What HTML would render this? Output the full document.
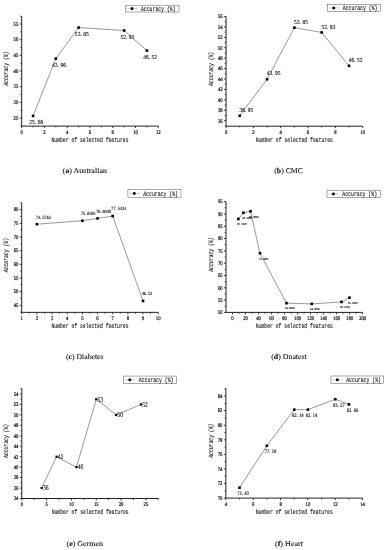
<!DOCTYPE html>
<html><head><meta charset="utf-8"><title>Accuracy vs number of selected features</title>
<style>
html,body{margin:0;padding:0;background:#fff}
svg{display:block}
text{fill:#111;text-rendering:geometricPrecision}
.tk{font-family:"Liberation Serif",serif;stroke:#111;stroke-width:0.2}
.pl{font-family:"Liberation Serif",serif;stroke:#111;stroke-width:0.12}
.mono{font-family:"Liberation Mono",monospace;stroke:#111;stroke-width:0.1}
.it{font-style:italic}
.cap{font-family:"Liberation Serif",serif;stroke:#111;stroke-width:0.1}
</style></head><body>
<svg width="388" height="550" viewBox="0 0 388 550">
<rect width="388" height="550" fill="#fff"/>
<path d="M21.7 16V126.1H158.2" fill="none" stroke="#222" stroke-width="1"/>
<path d="M21.7 118h-2M21.7 102.33h-2M21.7 86.67h-2M21.7 71h-2M21.7 55.33h-2M21.7 39.67h-2M21.7 24h-2M21.7 125.83h-1.3M21.7 110.17h-1.3M21.7 94.5h-1.3M21.7 78.83h-1.3M21.7 63.17h-1.3M21.7 47.5h-1.3M21.7 31.83h-1.3M21.7 16.17h-1.3M21.7 126.1v2M44.47 126.1v2M67.23 126.1v2M90 126.1v2M112.77 126.1v2M135.53 126.1v2M158.3 126.1v2M33.08 126.1v1.3M55.85 126.1v1.3M78.62 126.1v1.3M101.38 126.1v1.3M124.15 126.1v1.3M146.92 126.1v1.3" fill="none" stroke="#222" stroke-width="0.9"/>
<g class="tk" font-size="5.5">
<text transform="translate(18.3 119.81) scale(0.85 1)" text-anchor="end">25</text>
<text transform="translate(18.3 104.15) scale(0.85 1)" text-anchor="end">30</text>
<text transform="translate(18.3 88.48) scale(0.85 1)" text-anchor="end">35</text>
<text transform="translate(18.3 72.81) scale(0.85 1)" text-anchor="end">40</text>
<text transform="translate(18.3 57.15) scale(0.85 1)" text-anchor="end">45</text>
<text transform="translate(18.3 41.48) scale(0.85 1)" text-anchor="end">50</text>
<text transform="translate(18.3 25.82) scale(0.85 1)" text-anchor="end">55</text>
<text transform="translate(21.7 134.01) scale(0.85 1)" text-anchor="middle">0</text>
<text transform="translate(44.47 134.01) scale(0.85 1)" text-anchor="middle">2</text>
<text transform="translate(67.23 134.01) scale(0.85 1)" text-anchor="middle">4</text>
<text transform="translate(90 134.01) scale(0.85 1)" text-anchor="middle">6</text>
<text transform="translate(112.77 134.01) scale(0.85 1)" text-anchor="middle">8</text>
<text transform="translate(135.53 134.01) scale(0.85 1)" text-anchor="middle">10</text>
<text transform="translate(158.3 134.01) scale(0.85 1)" text-anchor="middle">12</text>
</g>
<text class="mono" transform="translate(89.95 141.6) scale(0.7 1)" text-anchor="middle" font-size="6.8">Number of selected features</text>
<text class="mono it" transform="translate(8.15 68.65) rotate(-90) scale(0.7 1)" text-anchor="middle" font-size="6.8">Accuracy (%)</text>
<path d="M33.08 115.93L55.85 58.59L78.62 27.6L124.15 30.49L146.92 50.57" fill="none" stroke="#444" stroke-width="0.55"/>
<rect x="31.78" y="114.63" width="2.6" height="2.6" fill="#000"/>
<rect x="54.55" y="57.29" width="2.6" height="2.6" fill="#000"/>
<rect x="77.32" y="26.3" width="2.6" height="2.6" fill="#000"/>
<rect x="122.85" y="29.19" width="2.6" height="2.6" fill="#000"/>
<rect x="145.62" y="49.27" width="2.6" height="2.6" fill="#000"/>
<g class="pl" font-size="6.16">
<text transform="translate(29.33 124.11) scale(0.9 1)" dx="0 0 0 1.54">25.66</text>
<text transform="translate(52.1 66.77) scale(0.9 1)" dx="0 0 0 1.54">43.96</text>
<text transform="translate(74.87 35.79) scale(0.9 1)" dx="0 0 0 1.54">53.85</text>
<text transform="translate(120.4 38.67) scale(0.9 1)" dx="0 0 0 1.54">52.93</text>
<text transform="translate(143.17 58.75) scale(0.9 1)" dx="0 0 0 1.54">46.52</text>
</g>
<rect x="125.6" y="5.2" width="53.4" height="6.8" fill="#fff" stroke="#555" stroke-width="0.5"/>
<path d="M127.1 8.6H137.6" stroke="#888" stroke-width="0.45"/>
<rect x="130.7" y="7.3" width="2.6" height="2.6" fill="#000"/>
<text class="mono" stroke-width="0.04" transform="translate(140.9 10.8) scale(0.71 1)" font-size="6.8">Accuracy (%)</text>
<g transform="translate(0.3 0.2)">
<path d="M225.75 16.25V126H362.4" fill="none" stroke="#222" stroke-width="1"/>
<path d="M225.75 120.5h-2M225.75 110.08h-2M225.75 99.65h-2M225.75 89.23h-2M225.75 78.8h-2M225.75 68.38h-2M225.75 57.95h-2M225.75 47.53h-2M225.75 37.1h-2M225.75 26.68h-2M225.75 16.25h-2M225.75 125.71h-1.3M225.75 115.29h-1.3M225.75 104.86h-1.3M225.75 94.44h-1.3M225.75 84.01h-1.3M225.75 73.59h-1.3M225.75 63.16h-1.3M225.75 52.74h-1.3M225.75 42.31h-1.3M225.75 31.89h-1.3M225.75 21.46h-1.3M225.75 126v2M253.08 126v2M280.41 126v2M307.74 126v2M335.07 126v2M362.4 126v2M239.41 126v1.3M266.75 126v1.3M294.07 126v1.3M321.4 126v1.3M348.73 126v1.3" fill="none" stroke="#222" stroke-width="0.9"/>
<g class="tk" font-size="5.5">
<text transform="translate(222.35 122.31) scale(0.85 1)" text-anchor="end">36</text>
<text transform="translate(222.35 111.89) scale(0.85 1)" text-anchor="end">38</text>
<text transform="translate(222.35 101.47) scale(0.85 1)" text-anchor="end">40</text>
<text transform="translate(222.35 91.04) scale(0.85 1)" text-anchor="end">42</text>
<text transform="translate(222.35 80.62) scale(0.85 1)" text-anchor="end">44</text>
<text transform="translate(222.35 70.19) scale(0.85 1)" text-anchor="end">46</text>
<text transform="translate(222.35 59.77) scale(0.85 1)" text-anchor="end">48</text>
<text transform="translate(222.35 49.34) scale(0.85 1)" text-anchor="end">50</text>
<text transform="translate(222.35 38.91) scale(0.85 1)" text-anchor="end">52</text>
<text transform="translate(222.35 28.49) scale(0.85 1)" text-anchor="end">54</text>
<text transform="translate(222.35 18.07) scale(0.85 1)" text-anchor="end">56</text>
<text transform="translate(225.75 133.91) scale(0.85 1)" text-anchor="middle">0</text>
<text transform="translate(253.08 133.91) scale(0.85 1)" text-anchor="middle">2</text>
<text transform="translate(280.41 133.91) scale(0.85 1)" text-anchor="middle">4</text>
<text transform="translate(307.74 133.91) scale(0.85 1)" text-anchor="middle">6</text>
<text transform="translate(335.07 133.91) scale(0.85 1)" text-anchor="middle">8</text>
<text transform="translate(362.4 133.91) scale(0.85 1)" text-anchor="middle">10</text>
</g>
<text class="mono" transform="translate(294.07 141.5) scale(0.7 1)" text-anchor="middle" font-size="6.8">Number of selected features</text>
<text class="mono it" transform="translate(212.4 68.72) rotate(-90) scale(0.7 1)" text-anchor="middle" font-size="6.8">Accuracy (%)</text>
<path d="M239.41 115.55L266.75 79.06L294.07 27.46L321.4 32.25L348.73 65.66" fill="none" stroke="#444" stroke-width="0.55"/>
<rect x="238.11" y="114.25" width="2.6" height="2.6" fill="#000"/>
<rect x="265.44" y="77.76" width="2.6" height="2.6" fill="#000"/>
<rect x="292.77" y="26.16" width="2.6" height="2.6" fill="#000"/>
<rect x="320.1" y="30.95" width="2.6" height="2.6" fill="#000"/>
<rect x="347.43" y="64.36" width="2.6" height="2.6" fill="#000"/>
<g class="pl" font-size="6.16">
<text transform="translate(239.11 111.68) scale(0.9 1)" dx="0 0 0 1.54">36.95</text>
<text transform="translate(266.44 75.19) scale(0.9 1)" dx="0 0 0 1.54">43.95</text>
<text transform="translate(293.77 23.59) scale(0.9 1)" dx="0 0 0 1.54">53.85</text>
<text transform="translate(321.1 28.39) scale(0.9 1)" dx="0 0 0 1.54">52.93</text>
<text transform="translate(348.43 61.8) scale(0.9 1)" dx="0 0 0 1.54">46.52</text>
</g>
<rect x="327.1" y="4.4" width="53.2" height="6.8" fill="#fff" stroke="#555" stroke-width="0.5"/>
<path d="M328.6 7.8H339.1" stroke="#888" stroke-width="0.45"/>
<rect x="332.2" y="6.5" width="2.6" height="2.6" fill="#000"/>
<text class="mono" stroke-width="0.04" transform="translate(342.4 10) scale(0.71 1)" font-size="6.8">Accuracy (%)</text>
</g>
<g transform="translate(0.2 0.35)">
<path d="M21.5 202.4V312H158" fill="none" stroke="#222" stroke-width="1"/>
<path d="M21.5 305h-2M21.5 291.32h-2M21.5 277.64h-2M21.5 263.96h-2M21.5 250.29h-2M21.5 236.61h-2M21.5 222.93h-2M21.5 209.25h-2M21.5 311.84h-1.3M21.5 298.16h-1.3M21.5 284.48h-1.3M21.5 270.8h-1.3M21.5 257.12h-1.3M21.5 243.45h-1.3M21.5 229.77h-1.3M21.5 216.09h-1.3M21.5 202.41h-1.3M21.5 312v2M36.67 312v2M51.83 312v2M67 312v2M82.17 312v2M97.33 312v2M112.5 312v2M127.67 312v2M142.83 312v2M158 312v2M29.08 312v1.3M44.25 312v1.3M59.42 312v1.3M74.58 312v1.3M89.75 312v1.3M104.92 312v1.3M120.08 312v1.3M135.25 312v1.3M150.42 312v1.3" fill="none" stroke="#222" stroke-width="0.9"/>
<g class="tk" font-size="5.5">
<text transform="translate(18.1 306.81) scale(0.85 1)" text-anchor="end">45</text>
<text transform="translate(18.1 293.14) scale(0.85 1)" text-anchor="end">50</text>
<text transform="translate(18.1 279.46) scale(0.85 1)" text-anchor="end">55</text>
<text transform="translate(18.1 265.78) scale(0.85 1)" text-anchor="end">60</text>
<text transform="translate(18.1 252.1) scale(0.85 1)" text-anchor="end">65</text>
<text transform="translate(18.1 238.42) scale(0.85 1)" text-anchor="end">70</text>
<text transform="translate(18.1 224.74) scale(0.85 1)" text-anchor="end">75</text>
<text transform="translate(18.1 211.06) scale(0.85 1)" text-anchor="end">80</text>
<text transform="translate(21.5 319.92) scale(0.85 1)" text-anchor="middle">1</text>
<text transform="translate(36.67 319.92) scale(0.85 1)" text-anchor="middle">2</text>
<text transform="translate(51.83 319.92) scale(0.85 1)" text-anchor="middle">3</text>
<text transform="translate(67 319.92) scale(0.85 1)" text-anchor="middle">4</text>
<text transform="translate(82.17 319.92) scale(0.85 1)" text-anchor="middle">5</text>
<text transform="translate(97.33 319.92) scale(0.85 1)" text-anchor="middle">6</text>
<text transform="translate(112.5 319.92) scale(0.85 1)" text-anchor="middle">7</text>
<text transform="translate(127.67 319.92) scale(0.85 1)" text-anchor="middle">8</text>
<text transform="translate(142.83 319.92) scale(0.85 1)" text-anchor="middle">9</text>
<text transform="translate(158 319.92) scale(0.85 1)" text-anchor="middle">10</text>
</g>
<text class="mono" transform="translate(89.75 327.5) scale(0.7 1)" text-anchor="middle" font-size="6.8">Number of selected features</text>
<text class="mono it" transform="translate(8.15 254.8) rotate(-90) scale(0.7 1)" text-anchor="middle" font-size="6.8">Accuracy (%)</text>
<path d="M36.67 223.84L82.17 220.36L97.33 218.04L112.5 215.72L142.83 300.59" fill="none" stroke="#444" stroke-width="0.55"/>
<rect x="35.37" y="222.54" width="2.6" height="2.6" fill="#000"/>
<rect x="80.87" y="219.06" width="2.6" height="2.6" fill="#000"/>
<rect x="96.03" y="216.74" width="2.6" height="2.6" fill="#000"/>
<rect x="111.2" y="214.42" width="2.6" height="2.6" fill="#000"/>
<rect x="141.53" y="299.29" width="2.6" height="2.6" fill="#000"/>
<g class="pl" font-size="4.73">
<text transform="translate(35.87 218.2) scale(0.9 1)" dx="0 0 0 1.18">74.5763</text>
<text transform="translate(80.77 214.72) scale(0.9 1)" dx="0 0 0 1.18">75.8481</text>
<text transform="translate(95.93 212.4) scale(0.9 1)" dx="0 0 0 1.18">76.6949</text>
<text transform="translate(111.1 209.98) scale(0.9 1)" dx="0 0 0 1.18">77.5424</text>
<text transform="translate(141.43 294.95) scale(0.9 1)" dx="0 0 0 1.18">46.52</text>
</g>
<rect x="127.7" y="189.35" width="53.1" height="7.5" fill="#fff" stroke="#555" stroke-width="0.5"/>
<path d="M129.2 193.1H139.7" stroke="#888" stroke-width="0.45"/>
<rect x="132.8" y="191.8" width="2.6" height="2.6" fill="#000"/>
<text class="mono" stroke-width="0.04" transform="translate(143 195.3) scale(0.71 1)" font-size="6.8">Accuracy (%)</text>
</g>
<g transform="translate(0.25 0.4)">
<path d="M225.75 201.25V312H362.4" fill="none" stroke="#222" stroke-width="1"/>
<path d="M225.75 312h-2M225.75 299.69h-2M225.75 287.39h-2M225.75 275.08h-2M225.75 262.78h-2M225.75 250.47h-2M225.75 238.17h-2M225.75 225.86h-2M225.75 213.56h-2M225.75 201.25h-2M225.75 305.85h-1.3M225.75 293.54h-1.3M225.75 281.24h-1.3M225.75 268.93h-1.3M225.75 256.62h-1.3M225.75 244.32h-1.3M225.75 232.01h-1.3M225.75 219.71h-1.3M225.75 207.4h-1.3M232.25 312v2M245.26 312v2M258.28 312v2M271.3 312v2M284.31 312v2M297.32 312v2M310.34 312v2M323.36 312v2M336.37 312v2M349.38 312v2M362.4 312v2M238.76 312v1.3M251.77 312v1.3M264.79 312v1.3M277.8 312v1.3M290.82 312v1.3M303.83 312v1.3M316.85 312v1.3M329.86 312v1.3M342.88 312v1.3M355.89 312v1.3" fill="none" stroke="#222" stroke-width="0.9"/>
<g class="tk" font-size="5.5">
<text transform="translate(222.35 313.81) scale(0.85 1)" text-anchor="end">50</text>
<text transform="translate(222.35 301.51) scale(0.85 1)" text-anchor="end">55</text>
<text transform="translate(222.35 289.2) scale(0.85 1)" text-anchor="end">60</text>
<text transform="translate(222.35 276.9) scale(0.85 1)" text-anchor="end">65</text>
<text transform="translate(222.35 264.59) scale(0.85 1)" text-anchor="end">70</text>
<text transform="translate(222.35 252.29) scale(0.85 1)" text-anchor="end">75</text>
<text transform="translate(222.35 239.98) scale(0.85 1)" text-anchor="end">80</text>
<text transform="translate(222.35 227.68) scale(0.85 1)" text-anchor="end">85</text>
<text transform="translate(222.35 215.37) scale(0.85 1)" text-anchor="end">90</text>
<text transform="translate(222.35 203.06) scale(0.85 1)" text-anchor="end">95</text>
<text transform="translate(232.25 319.92) scale(0.85 1)" text-anchor="middle">0</text>
<text transform="translate(245.26 319.92) scale(0.85 1)" text-anchor="middle">20</text>
<text transform="translate(258.28 319.92) scale(0.85 1)" text-anchor="middle">40</text>
<text transform="translate(271.3 319.92) scale(0.85 1)" text-anchor="middle">60</text>
<text transform="translate(284.31 319.92) scale(0.85 1)" text-anchor="middle">80</text>
<text transform="translate(297.32 319.92) scale(0.85 1)" text-anchor="middle">100</text>
<text transform="translate(310.34 319.92) scale(0.85 1)" text-anchor="middle">120</text>
<text transform="translate(323.36 319.92) scale(0.85 1)" text-anchor="middle">140</text>
<text transform="translate(336.37 319.92) scale(0.85 1)" text-anchor="middle">160</text>
<text transform="translate(349.38 319.92) scale(0.85 1)" text-anchor="middle">180</text>
<text transform="translate(362.4 319.92) scale(0.85 1)" text-anchor="middle">200</text>
</g>
<text class="mono" transform="translate(294.07 327.5) scale(0.7 1)" text-anchor="middle" font-size="6.8">Number of selected features</text>
<text class="mono it" transform="translate(212.4 254.22) rotate(-90) scale(0.7 1)" text-anchor="middle" font-size="6.8">Accuracy (%)</text>
<path d="M238.1 218.6L243.2 212.4L250.3 210.9L259.7 252.8L286.25 302.75L311.5 303.5L341.25 301.55L349.2 297.25" fill="none" stroke="#444" stroke-width="0.55"/>
<rect x="236.8" y="217.3" width="2.6" height="2.6" fill="#000"/>
<rect x="241.9" y="211.1" width="2.6" height="2.6" fill="#000"/>
<rect x="249" y="209.6" width="2.6" height="2.6" fill="#000"/>
<rect x="258.4" y="251.5" width="2.6" height="2.6" fill="#000"/>
<rect x="284.95" y="301.45" width="2.6" height="2.6" fill="#000"/>
<rect x="310.2" y="302.2" width="2.6" height="2.6" fill="#000"/>
<rect x="339.95" y="300.25" width="2.6" height="2.6" fill="#000"/>
<rect x="347.9" y="295.95" width="2.6" height="2.6" fill="#000"/>
<g class="pl" font-size="3.08">
<text transform="translate(237 224.52) scale(0.9 1)" dx="0 0 0 0.77">87.7622</text>
<text transform="translate(242.1 218.72) scale(0.9 1)" dx="0 0 0 0.77">90.3496</text>
<text transform="translate(248.8 217.12) scale(0.9 1)" dx="0 0 0 0.77">90.9860</text>
<text transform="translate(258.5 259.32) scale(0.9 1)" dx="0 0 0 0.77">73.9860</text>
<text transform="translate(284.8 308.52) scale(0.9 1)" dx="0 0 0 0.77">53.8462</text>
<text transform="translate(309.75 309.52) scale(0.9 1)" dx="0 0 0 0.77">53.4965</text>
<text transform="translate(339.7 308.02) scale(0.9 1)" dx="0 0 0 0.77">54.1953</text>
<text transform="translate(347.7 303.22) scale(0.9 1)" dx="0 0 0 0.77">55.9400</text>
</g>
<rect x="326.75" y="189.8" width="53.6" height="7.5" fill="#fff" stroke="#555" stroke-width="0.5"/>
<path d="M328.25 193.55H338.75" stroke="#888" stroke-width="0.45"/>
<rect x="331.85" y="192.25" width="2.6" height="2.6" fill="#000"/>
<text class="mono" stroke-width="0.04" transform="translate(342.05 195.75) scale(0.71 1)" font-size="6.8">Accuracy (%)</text>
</g>
<g transform="translate(0.3 0.25)">
<path d="M21.5 388V498.25H158.25" fill="none" stroke="#222" stroke-width="1"/>
<path d="M21.5 498.25h-2M21.5 487.8h-2M21.5 477.35h-2M21.5 466.9h-2M21.5 456.45h-2M21.5 446h-2M21.5 435.55h-2M21.5 425.1h-2M21.5 414.65h-2M21.5 404.2h-2M21.5 393.75h-2M21.5 493.02h-1.3M21.5 482.57h-1.3M21.5 472.12h-1.3M21.5 461.68h-1.3M21.5 451.23h-1.3M21.5 440.77h-1.3M21.5 430.32h-1.3M21.5 419.88h-1.3M21.5 409.43h-1.3M21.5 398.98h-1.3M21.5 388.52h-1.3M21.5 498.25v2M46.32 498.25v2M71.14 498.25v2M95.96 498.25v2M120.78 498.25v2M145.6 498.25v2M33.91 498.25v1.3M58.73 498.25v1.3M83.55 498.25v1.3M108.37 498.25v1.3M133.19 498.25v1.3M158.01 498.25v1.3" fill="none" stroke="#222" stroke-width="0.9"/>
<g class="tk" font-size="5.5">
<text transform="translate(18.1 500.06) scale(0.85 1)" text-anchor="end">34</text>
<text transform="translate(18.1 489.62) scale(0.85 1)" text-anchor="end">36</text>
<text transform="translate(18.1 479.17) scale(0.85 1)" text-anchor="end">38</text>
<text transform="translate(18.1 468.71) scale(0.85 1)" text-anchor="end">40</text>
<text transform="translate(18.1 458.26) scale(0.85 1)" text-anchor="end">42</text>
<text transform="translate(18.1 447.81) scale(0.85 1)" text-anchor="end">44</text>
<text transform="translate(18.1 437.37) scale(0.85 1)" text-anchor="end">46</text>
<text transform="translate(18.1 426.92) scale(0.85 1)" text-anchor="end">48</text>
<text transform="translate(18.1 416.46) scale(0.85 1)" text-anchor="end">50</text>
<text transform="translate(18.1 406.01) scale(0.85 1)" text-anchor="end">52</text>
<text transform="translate(18.1 395.56) scale(0.85 1)" text-anchor="end">54</text>
<text transform="translate(21.5 506.17) scale(0.85 1)" text-anchor="middle">0</text>
<text transform="translate(46.32 506.17) scale(0.85 1)" text-anchor="middle">5</text>
<text transform="translate(71.14 506.17) scale(0.85 1)" text-anchor="middle">10</text>
<text transform="translate(95.96 506.17) scale(0.85 1)" text-anchor="middle">15</text>
<text transform="translate(120.78 506.17) scale(0.85 1)" text-anchor="middle">20</text>
<text transform="translate(145.6 506.17) scale(0.85 1)" text-anchor="middle">25</text>
</g>
<text class="mono" transform="translate(89.88 513.75) scale(0.7 1)" text-anchor="middle" font-size="6.8">Number of selected features</text>
<text class="mono it" transform="translate(8.15 440.73) rotate(-90) scale(0.7 1)" text-anchor="middle" font-size="6.8">Accuracy (%)</text>
<path d="M41.36 487.8L56.25 456.45L76.1 466.9L95.96 398.98L115.82 414.65L140.64 404.2" fill="none" stroke="#444" stroke-width="0.55"/>
<rect x="40.26" y="486.7" width="2.2" height="2.2" fill="#000"/>
<rect x="55.15" y="455.35" width="2.2" height="2.2" fill="#000"/>
<rect x="75" y="465.8" width="2.2" height="2.2" fill="#000"/>
<rect x="94.86" y="397.88" width="2.2" height="2.2" fill="#000"/>
<rect x="114.72" y="413.55" width="2.2" height="2.2" fill="#000"/>
<rect x="139.54" y="403.1" width="2.2" height="2.2" fill="#000"/>
<g class="pl" font-size="7">
<text transform="translate(42.61 490.11) scale(0.8 1)">36</text>
<text transform="translate(57.5 458.76) scale(0.8 1)">42</text>
<text transform="translate(77.35 469.21) scale(0.8 1)">40</text>
<text transform="translate(97.21 401.29) scale(0.8 1)">53</text>
<text transform="translate(117.07 416.96) scale(0.8 1)">50</text>
<text transform="translate(141.89 406.51) scale(0.8 1)">52</text>
</g>
<rect x="123.1" y="375.8" width="53.2" height="7.6" fill="#fff" stroke="#555" stroke-width="0.5"/>
<path d="M124.6 379.6H135.1" stroke="#888" stroke-width="0.45"/>
<rect x="128.2" y="378.3" width="2.6" height="2.6" fill="#000"/>
<text class="mono" stroke-width="0.04" transform="translate(138.4 381.8) scale(0.71 1)" font-size="6.8">Accuracy (%)</text>
</g>
<g transform="translate(0.1 0.1)">
<path d="M225.75 388V498H362.5" fill="none" stroke="#222" stroke-width="1"/>
<path d="M225.75 498h-2M225.75 483.43h-2M225.75 468.86h-2M225.75 454.29h-2M225.75 439.71h-2M225.75 425.14h-2M225.75 410.57h-2M225.75 396h-2M225.75 490.71h-1.3M225.75 476.14h-1.3M225.75 461.57h-1.3M225.75 447h-1.3M225.75 432.43h-1.3M225.75 417.86h-1.3M225.75 403.29h-1.3M225.75 388.71h-1.3M225.75 498v2M253.1 498v2M280.45 498v2M307.8 498v2M335.15 498v2M362.5 498v2M239.43 498v1.3M266.77 498v1.3M294.12 498v1.3M321.48 498v1.3M348.82 498v1.3" fill="none" stroke="#222" stroke-width="0.9"/>
<g class="tk" font-size="5.5">
<text transform="translate(222.35 499.81) scale(0.85 1)" text-anchor="end">70</text>
<text transform="translate(222.35 485.24) scale(0.85 1)" text-anchor="end">72</text>
<text transform="translate(222.35 470.67) scale(0.85 1)" text-anchor="end">74</text>
<text transform="translate(222.35 456.1) scale(0.85 1)" text-anchor="end">76</text>
<text transform="translate(222.35 441.53) scale(0.85 1)" text-anchor="end">78</text>
<text transform="translate(222.35 426.96) scale(0.85 1)" text-anchor="end">80</text>
<text transform="translate(222.35 412.39) scale(0.85 1)" text-anchor="end">82</text>
<text transform="translate(222.35 397.81) scale(0.85 1)" text-anchor="end">84</text>
<text transform="translate(225.75 505.92) scale(0.85 1)" text-anchor="middle">4</text>
<text transform="translate(253.1 505.92) scale(0.85 1)" text-anchor="middle">6</text>
<text transform="translate(280.45 505.92) scale(0.85 1)" text-anchor="middle">8</text>
<text transform="translate(307.8 505.92) scale(0.85 1)" text-anchor="middle">10</text>
<text transform="translate(335.15 505.92) scale(0.85 1)" text-anchor="middle">12</text>
<text transform="translate(362.5 505.92) scale(0.85 1)" text-anchor="middle">14</text>
</g>
<text class="mono" transform="translate(294.12 513.5) scale(0.7 1)" text-anchor="middle" font-size="6.8">Number of selected features</text>
<text class="mono it" transform="translate(212.4 440.6) rotate(-90) scale(0.7 1)" text-anchor="middle" font-size="6.8">Accuracy (%)</text>
<path d="M239.43 487.58L266.77 445.69L294.12 409.55L307.8 409.55L335.15 399.13L348.82 404.31" fill="none" stroke="#444" stroke-width="0.55"/>
<rect x="238.12" y="486.28" width="2.6" height="2.6" fill="#000"/>
<rect x="265.47" y="444.39" width="2.6" height="2.6" fill="#000"/>
<rect x="292.82" y="408.25" width="2.6" height="2.6" fill="#000"/>
<rect x="306.5" y="408.25" width="2.6" height="2.6" fill="#000"/>
<rect x="333.85" y="397.83" width="2.6" height="2.6" fill="#000"/>
<rect x="347.52" y="403.01" width="2.6" height="2.6" fill="#000"/>
<g class="pl" font-size="5.17">
<text transform="translate(237.23 494.89) scale(0.9 1)" dx="0 0 0 1.29">71.43</text>
<text transform="translate(264.57 452.99) scale(0.9 1)" dx="0 0 0 1.29">77.18</text>
<text transform="translate(291.93 416.86) scale(0.9 1)" dx="0 0 0 1.29">82.14</text>
<text transform="translate(305.6 416.86) scale(0.9 1)" dx="0 0 0 1.29">82.14</text>
<text transform="translate(332.95 406.44) scale(0.9 1)" dx="0 0 0 1.29">83.57</text>
<text transform="translate(346.62 411.61) scale(0.9 1)" dx="0 0 0 1.29">82.86</text>
</g>
<rect x="330.8" y="375.9" width="52.7" height="7.7" fill="#fff" stroke="#555" stroke-width="0.5"/>
<path d="M332.3 379.75H342.8" stroke="#888" stroke-width="0.45"/>
<rect x="335.9" y="378.45" width="2.6" height="2.6" fill="#000"/>
<text class="mono" stroke-width="0.04" transform="translate(346.1 381.95) scale(0.71 1)" font-size="6.8">Accuracy (%)</text>
</g>
<text class="cap" x="84.75" y="173" text-anchor="middle" font-size="7.4" textLength="44.5" lengthAdjust="spacingAndGlyphs">(<tspan font-weight="bold">a</tspan>) Australian</text>
<text class="cap" x="288.6" y="173" text-anchor="middle" font-size="7.4" textLength="28.75" lengthAdjust="spacingAndGlyphs">(<tspan font-weight="bold">b</tspan>) CMC</text>
<text class="cap" x="84.75" y="358.5" text-anchor="middle" font-size="7.4" textLength="37.5" lengthAdjust="spacingAndGlyphs">(<tspan font-weight="bold">c</tspan>) Diabetes</text>
<text class="cap" x="289" y="358.5" text-anchor="middle" font-size="7.4" textLength="35.5" lengthAdjust="spacingAndGlyphs">(<tspan font-weight="bold">d</tspan>) Dnatest</text>
<text class="cap" x="84.75" y="546" text-anchor="middle" font-size="7.4" textLength="36.5" lengthAdjust="spacingAndGlyphs">(<tspan font-weight="bold">e</tspan>) Germen</text>
<text class="cap" x="289" y="546" text-anchor="middle" font-size="7.4" textLength="28" lengthAdjust="spacingAndGlyphs">(<tspan font-weight="bold">f</tspan>) Heart</text>
</svg>
</body></html>
